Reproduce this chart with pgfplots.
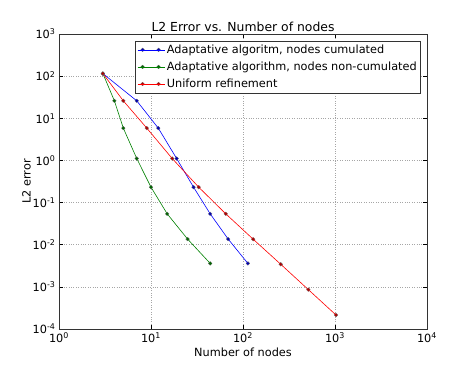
\documentclass[border=0pt]{standalone}
\usepackage{pgfplots}
\pgfplotsset{compat=1.18}
\usepackage{fontspec}
\setmainfont{DejaVu Sans}
\begin{document}
\begin{tikzpicture}
\begin{axis}[
  scale only axis,
  width=368pt, height=295pt,
  xmode=log, ymode=log,
  xmin=1, xmax=1e4, ymin=1e-4, ymax=1e3,
  log basis x=10, log basis y=10,
  xtick={1,10,100,1000,10000},
  ytick={1e-4,1e-3,1e-2,1e-1,1,10,100,1000},
  log number format basis/.code 2 args={#1\textsuperscript{\pgfmathprintnumber[assume math mode=true]{#2}}},
  tick align=inside,
  major tick length=4pt, minor tick length=2pt,
  every tick/.style={black, line width=0.5pt},
  grid=major,
  major grid style={gray!70, dotted, line width=0.5pt},
  axis line style={black!80, line width=0.7pt},
  tick label style={font=\fontsize{11.3}{13}\selectfont},
  label style={font=\fontsize{11.3}{13}\selectfont},
  ylabel style={yshift=-5pt},
  xlabel style={yshift=1pt},
  every axis title shift=0pt,
  title style={font=\fontsize{12.4}{14}\selectfont, at={(0.5,1)}, anchor=base, yshift=2.5pt},
  title={L2 Error vs. Number of nodes},
  xlabel={Number of nodes},
  ylabel={L2 error},
  legend style={at={(1,1)}, anchor=north east, xshift=-6pt, yshift=-6.5pt,
    font=\fontsize{11.3}{13}\selectfont, draw=black!80, line width=0.6pt,
    row sep=3pt, inner xsep=2pt, inner ysep=2pt},
  legend cell align=left,
  legend image code/.code={\draw plot coordinates {(5pt,0pt) (21pt,0pt)};\path (0pt,0pt) -- (27pt,0pt);},
  every axis plot/.append style={line width=0.6pt, mark=*, mark size=1.9pt},
]
\addplot[blue, mark options={fill=blue!70!black, draw=black!60, line width=0.2pt}] coordinates {
 (3,115) (7,26) (12,5.85) (19,1.11) (29,0.232) (44,0.054) (69,0.0136) (113,0.0036)};
\addlegendentry{Adaptative algoritm, nodes cumulated}
\addplot[green!50!black, mark options={fill=green!40!black, draw=black!60, line width=0.2pt}] coordinates {
 (3,115) (4,26) (5,5.85) (7,1.11) (10,0.232) (15,0.054) (25,0.0136) (44,0.0036)};
\addlegendentry{Adaptative algorithm, nodes non-cumulated}
\addplot[red, mark options={fill=red!70!black, draw=black!60, line width=0.2pt}] coordinates {
 (3,115) (5,26) (9,5.85) (17,1.11) (33,0.232) (65,0.054) (129,0.0135) (257,0.00344) (513,0.00086) (1025,0.000215)};
\addlegendentry{Uniform refinement}
\end{axis}
\pgfresetboundingbox
\path (-59pt,-37pt) rectangle (415pt,329pt);
\end{tikzpicture}
\end{document}
